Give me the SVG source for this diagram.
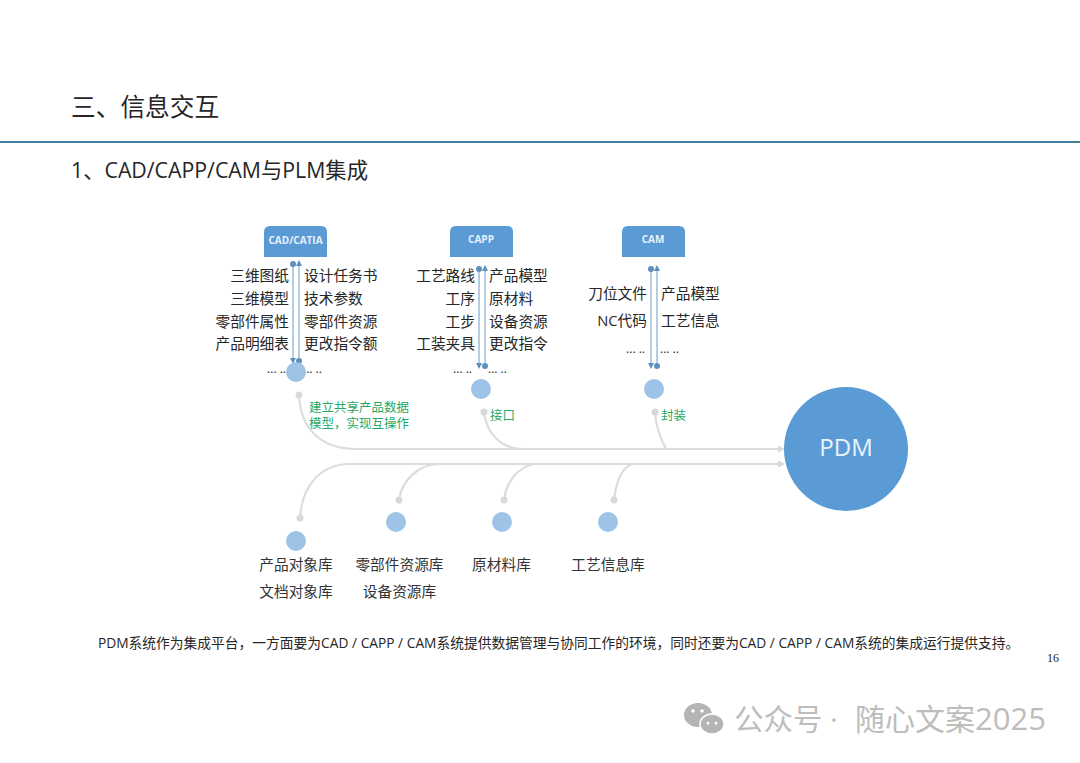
<svg xmlns="http://www.w3.org/2000/svg" width="1080" height="763" viewBox="0 0 1080 763">
<style>
text{font-family:"Open Sans","Noto Sans CJK SC",sans-serif;fill:#262626}
.l{font-size:14.700px;text-anchor:end}
.r{font-size:14.700px}
.c{font-size:14.700px;text-anchor:middle;fill:#333}
.dl{font-size:12px;text-anchor:end}
.dr{font-size:12px}
.g{font-size:12.500px;fill:#1fa866}
.h{font-size:10px;font-weight:700;fill:#e8f1fa;text-anchor:middle}
.box{fill:#5b9bd5}
.dot{fill:#9dc3e6}
.gray{fill:none;stroke:#dcdcdc;stroke-width:2.200}
.gd{fill:#d9d9d9}
.ar{stroke:#9dbbd8;stroke-width:1.500;fill:none}
.ad{fill:#5f8fbd}
</style>
<defs>
<path id="hd" d="M0 31V6Q0 0 6 0H57Q63 0 63 6V31Z"/>
<g id="pair">
<line class="ar" x1="0" y1="0" x2="0" y2="96"/>
<line class="ar" x1="6" y1="0" x2="6" y2="96"/>
<circle class="ad" cx="0" cy="0" r="3"/>
<path class="ad" d="M6-4L9 2H3Z"/>
<path class="ad" d="M0 100L-3 94H3Z"/>
<circle class="ad" cx="6" cy="97" r="3"/>
</g>
</defs>
<rect width="1080" height="763" fill="#fff"/>
<text x="71" y="116" font-size="24.700">三、信息交互</text>
<rect x="0" y="141" width="1080" height="2" fill="#3f7f9f"/>
<text x="71" y="178" font-size="21.300">1、CAD/CAPP/CAM与PLM集成</text>

<g id="connectors">
<use href="#pair" x="293" y="264"/>
<use href="#pair" x="479" y="269"/>
<use href="#pair" x="651" y="269"/>
<path class="gray" d="M299 396C301 430 322 449 356 449H782"/>
<path class="gray" d="M484 413C487 433 500 449 524 449"/>
<path class="gray" d="M655 412C656 428 660 438 666 449"/>
<path class="gray" d="M782 464H350C322 464 302 484 300 518"/>
<path class="gray" d="M399 500C402 480 418 465 438 464"/>
<path class="gray" d="M504 500C506 482 518 467 534 464"/>
<path class="gray" d="M614 500C616 482 622 468 632 464"/>
<circle class="gd" cx="299" cy="395" r="3.500"/>
<circle class="gd" cx="484" cy="412" r="3.500"/>
<circle class="gd" cx="655" cy="412" r="3.500"/>
<circle class="gd" cx="300" cy="518" r="3.500"/>
<circle class="gd" cx="399" cy="500" r="3.500"/>
<circle class="gd" cx="504" cy="500" r="3.500"/>
<circle class="gd" cx="614" cy="500" r="3.500"/>
<path class="gd" d="M778 445.500L785 449L778 452.500Z"/>
<path class="gd" d="M778 460.500L785 464L778 467.500Z"/>
</g>

<g id="node-cad">
<use href="#hd" class="box" x="264" y="226"/>
<text class="h" x="295.500" y="244">CAD/CATIA</text>
<text class="l" x="289" y="281">三维图纸</text>
<text class="l" x="289" y="304">三维模型</text>
<text class="l" x="289" y="327">零部件属性</text>
<text class="l" x="289" y="349">产品明细表</text>
<text class="r" x="304" y="281">设计任务书</text>
<text class="r" x="304" y="304">技术参数</text>
<text class="r" x="304" y="327">零部件资源</text>
<text class="r" x="304" y="349">更改指令额</text>
<text class="dl" x="286" y="373">... ..</text>
<text class="dr" x="303" y="373">... ..</text>
<circle class="dot" cx="296" cy="372" r="10"/>
</g>
<g id="node-capp">
<use href="#hd" class="box" x="450" y="226"/>
<text class="h" x="481" y="243">CAPP</text>
<text class="l" x="475" y="281">工艺路线</text>
<text class="l" x="475" y="304">工序</text>
<text class="l" x="475" y="327">工步</text>
<text class="l" x="475" y="349">工装夹具</text>
<text class="r" x="489" y="281">产品模型</text>
<text class="r" x="489" y="304">原材料</text>
<text class="r" x="489" y="327">设备资源</text>
<text class="r" x="489" y="349">更改指令</text>
<text class="dl" x="472" y="373">... ..</text>
<text class="dr" x="488" y="373">... ..</text>
<circle class="dot" cx="481" cy="389" r="10"/>
</g>
<g id="node-cam">
<use href="#hd" class="box" x="622" y="226"/>
<text class="h" x="653" y="243">CAM</text>
<text class="l" x="647" y="299">刀位文件</text>
<text class="l" x="647" y="326" xml:space="preserve">NC代码</text>
<text class="r" x="661" y="299">产品模型</text>
<text class="r" x="661" y="326">工艺信息</text>
<text class="dl" x="645" y="353">... ..</text>
<text class="dr" x="660" y="353">... ..</text>
<circle class="dot" cx="654" cy="389" r="10"/>
</g>
<g id="labels-green">
<text class="g" x="309" y="412">建立共享产品数据</text>
<text class="g" x="309" y="428">模型，实现互操作</text>
<text class="g" x="490" y="420">接口</text>
<text class="g" x="661" y="420">封装</text>
</g>
<g id="node-pdm">
<circle cx="846" cy="449" r="62" fill="#5b9bd5"/>
<text x="846" y="456" font-size="24" text-anchor="middle" style="fill:#eaf3fb">PDM</text>
</g>
<g id="node-product">
<circle class="dot" cx="296" cy="541" r="10"/>
<text class="c" x="296" y="570">产品对象库</text>
<text class="c" x="296" y="597">文档对象库</text>
</g>
<g id="node-parts">
<circle class="dot" cx="396" cy="522" r="10"/>
<text class="c" x="399.500" y="570">零部件资源库</text>
<text class="c" x="399.500" y="597">设备资源库</text>
</g>
<g id="node-material">
<circle class="dot" cx="502" cy="522" r="10"/>
<text class="c" x="501.500" y="570">原材料库</text>
</g>
<g id="node-process">
<circle class="dot" cx="608" cy="522" r="10"/>
<text class="c" x="608" y="570">工艺信息库</text>
</g>
<text x="98" y="648" font-size="13.750">PDM系统作为集成平台，一方面要为CAD / CAPP / CAM系统提供数据管理与协同工作的环境，同时还要为CAD / CAPP / CAM系统的集成运行提供支持。</text>
<text x="1047" y="662" font-size="12" style="font-family:'Liberation Serif',serif">16</text>
<g id="watermark">
<ellipse cx="698" cy="715" rx="14" ry="12" fill="#b5b5b5"/>
<ellipse cx="712" cy="724" rx="12" ry="10" fill="#b5b5b5" stroke="#fff" stroke-width="1.500"/>
<circle cx="693" cy="711" r="1.800" fill="#fff"/>
<circle cx="702" cy="711" r="1.800" fill="#fff"/>
<circle cx="708" cy="723" r="1.500" fill="#fff"/>
<circle cx="716" cy="723" r="1.500" fill="#fff"/>
<text x="734" y="730" font-size="29.500" style="fill:#bdbdbd">公众号</text>
<text x="830" y="730" font-size="29" style="fill:#bdbdbd">·</text>
<text x="855" y="730" font-size="30" style="fill:#bdbdbd">随心文案<tspan font-size="31">2025</tspan></text>
</g>
</svg>
